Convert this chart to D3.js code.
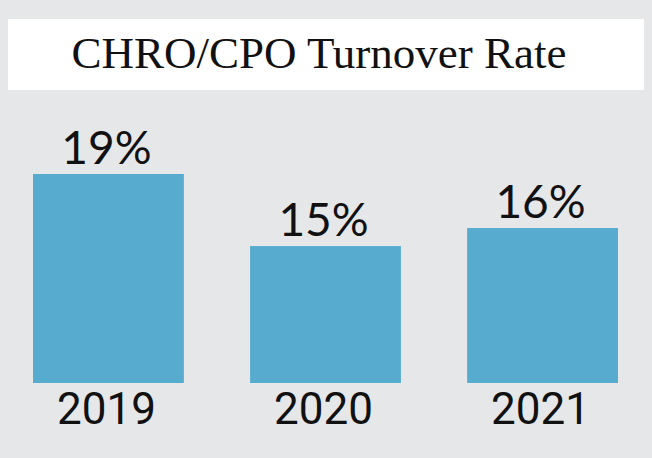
<!DOCTYPE html>
<html><head><meta charset="utf-8">
<script src="https://cdn.jsdelivr.net/npm/d3@7"></script>
<style>html,body{margin:0;padding:0;background:#e6e7e9;}svg{display:block;}</style>
</head><body>
<svg id="c" width="652" height="458"></svg>
<script>
const title = "CHRO/CPO Turnover Rate";
const years = ["2019", "2020", "2021"];
const rates = [19, 15, 16];
const rateLabels = ["19%", "15%", "16%"];

const svg = d3.select("#c");
svg.append("rect").attr("x",0).attr("y",0).attr("width",652).attr("height",458).attr("fill","#e6e7e9");
svg.append("rect").attr("x",8).attr("y",19).attr("width",636).attr("height",71).attr("fill","#ffffff");
svg.append("text").attr("x",319).attr("y",68).attr("text-anchor","middle")
  .attr("font-family","'Liberation Serif', 'Times New Roman', serif").attr("font-size",45)
  .attr("fill","#111").text(title);

const x = d3.scaleBand().domain(years).range([33, 618]).paddingInner(0.305).paddingOuter(0);
const y = d3.scaleLinear().domain([7.4, 19]).range([383, 174]);

const g = svg.append("g");
g.selectAll("rect.bar").data(years).join("rect").attr("class","bar")
  .attr("x", d => x(d)).attr("width", x.bandwidth())
  .attr("y", (d,i) => y(rates[i])).attr("height", (d,i) => 383 - y(rates[i]))
  .attr("fill","#57abcf");

g.selectAll("text.val").data(years).join("text").attr("class","val")
  .attr("x", d => x(d) + x.bandwidth()/2 - 2)
  .attr("y", (d,i) => y(rates[i]) - 10)
  .attr("text-anchor","middle").attr("font-family","Lato, sans-serif").attr("font-weight",400)
  .attr("font-size",46).attr("fill","#111").text((d,i) => rateLabels[i]);

const xAxis = d3.axisBottom(x).tickSize(0).tickPadding(0);
const ax = svg.append("g").attr("transform","translate(0,383)").call(xAxis);
ax.select(".domain").remove();
ax.selectAll("text").attr("y", 41).attr("dy", 0).attr("font-family","Roboto, sans-serif")
  .attr("font-size",44).attr("fill","#111").attr("transform","translate(-2,0)");
</script>
</body></html>
